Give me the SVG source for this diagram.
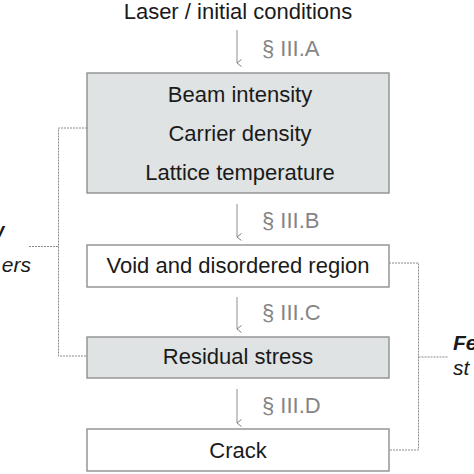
<svg xmlns="http://www.w3.org/2000/svg" width="474" height="474" viewBox="0 0 474 474">
<defs>
<marker id="vh" markerWidth="10" markerHeight="10" refX="4" refY="6" orient="auto" markerUnits="userSpaceOnUse" viewBox="0 0 10 10">
<path d="M0.5,1.5 L4,6 L7.5,1.5" fill="none" stroke="#808080" stroke-width="1"/>
</marker>
<style>
.t{font-family:"Liberation Sans",Arial,sans-serif;font-size:22px;fill:#1a1a1a;text-anchor:middle}
.s{font-family:"Liberation Sans",Arial,sans-serif;font-size:22px;fill:#858585}
.side{font-family:"Liberation Sans",Arial,sans-serif;font-size:21px;font-style:italic;fill:#1a1a1a}
.g{fill:#dfe3e3;stroke:#8f8f8f;stroke-width:1.4}
.w{fill:#ffffff;stroke:#8f8f8f;stroke-width:1.4}
.a{stroke:#8f8f8f;stroke-width:1;fill:none}
.c{stroke:#8a8a8a;stroke-width:1;fill:none;stroke-dasharray:2 1}
</style>
</defs>
<rect width="474" height="474" fill="#ffffff"/>
<g id="connectors">
<line class="a" x1="237" y1="30" x2="237" y2="63" marker-end="url(#vh)"/>
<line class="a" x1="237" y1="204" x2="237" y2="237" marker-end="url(#vh)"/>
<line class="a" x1="237" y1="297" x2="237" y2="329" marker-end="url(#vh)"/>
<line class="a" x1="237" y1="389" x2="237" y2="423" marker-end="url(#vh)"/>
<polyline class="c" points="87,128 58.5,128 58.5,356 87,356"/>
<line class="c" x1="29" y1="246.5" x2="58.5" y2="246.5"/>
<polyline class="c" points="389,263 418.5,263 418.5,450 389,450"/>
<line class="c" x1="418.5" y1="357" x2="448" y2="357"/>
</g>
<g id="labels">
<text class="t" x="238" y="19">Laser / initial conditions</text>
<text class="s" x="262" y="56">§ III.A</text>
<text class="s" x="262" y="228">§ III.B</text>
<text class="s" x="262" y="320">§ III.C</text>
<text class="s" x="262" y="413">§ III.D</text>
<text class="side" x="4" y="237" text-anchor="end" font-weight="bold">w</text>
<text class="side" x="31" y="272" text-anchor="end">ers</text>
<text class="side" x="453" y="350" font-weight="bold">Fe</text>
<text class="side" x="453" y="375">st</text>
</g>
<g id="node-inputs">
<rect class="g" x="87" y="73" width="302" height="120"/>
<text class="t" x="240" y="102">Beam intensity</text>
<text class="t" x="240" y="141">Carrier density</text>
<text class="t" x="240" y="180">Lattice temperature</text>
</g>
<g id="node-void">
<rect class="w" x="87" y="245" width="302" height="42"/>
<text class="t" x="238" y="273">Void and disordered region</text>
</g>
<g id="node-stress">
<rect class="g" x="87" y="337" width="302" height="41"/>
<text class="t" x="238" y="364">Residual stress</text>
</g>
<g id="node-crack">
<rect class="w" x="87" y="429" width="302" height="42"/>
<text class="t" x="238" y="458">Crack</text>
</g>
</svg>
